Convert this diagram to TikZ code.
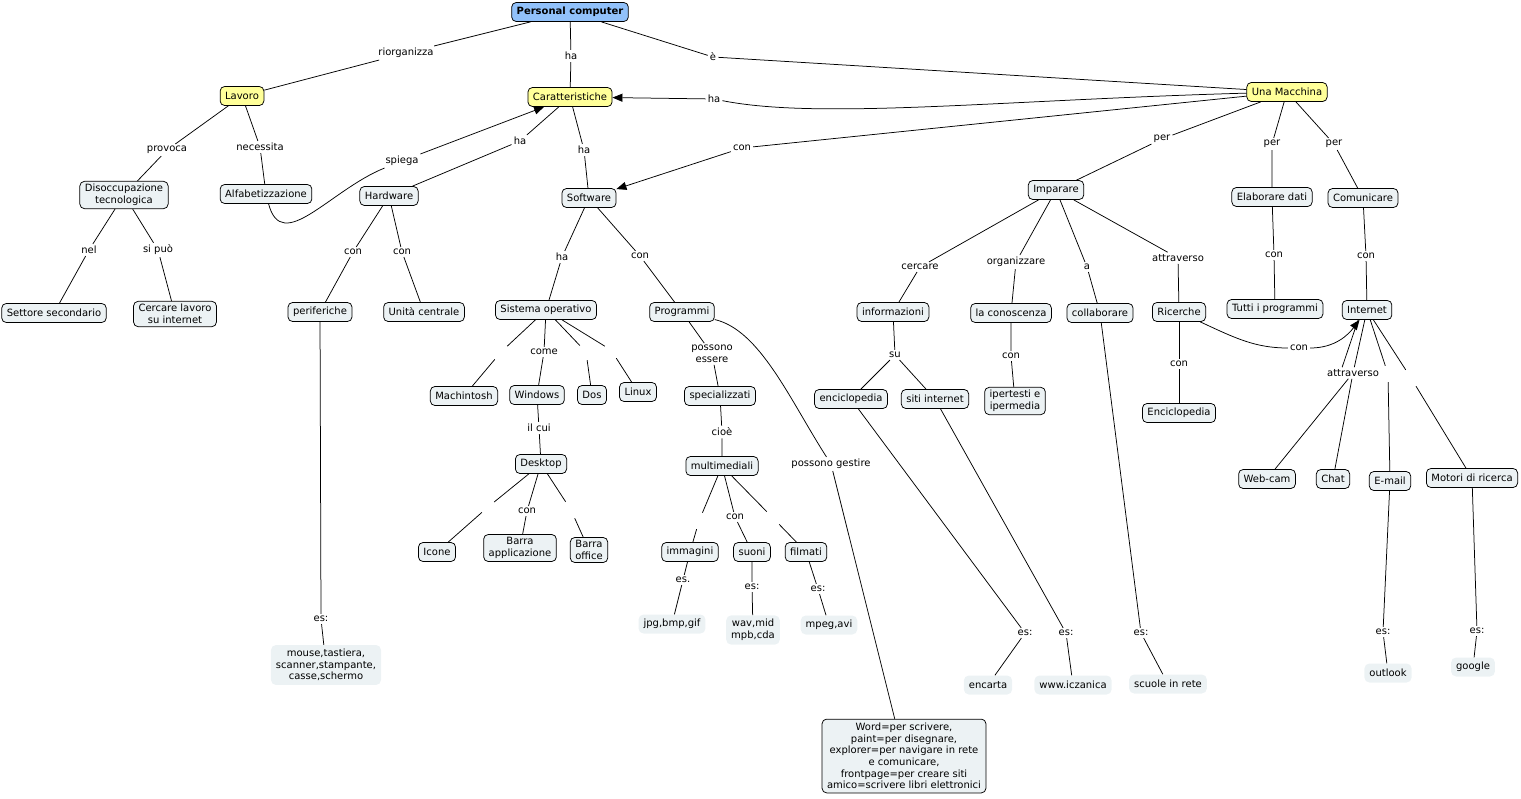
\documentclass[tikz,border=0pt]{standalone}
\usepackage{fontspec}
\setmainfont{DejaVu Sans}
\usepackage{tikz}
\usetikzlibrary{arrows.meta}
\definecolor{cmapice}{RGB}{236,242,244}
\definecolor{cmapyellow}{RGB}{255,255,153}
\definecolor{cmapblue}{RGB}{145,193,250}

\begin{document}
\begin{tikzpicture}[
        x=1pt, y=-1pt,
        concept/.style={draw, rounded corners=4.5pt, line width=0.75pt, fill=cmapice, inner xsep=5pt, inner ysep=3pt, minimum height=19pt, align=center, font=\fontsize{10}{11.6}\selectfont},
        hub/.style={concept, fill=cmapyellow},
        topic/.style={concept, fill=cmapblue, font=\fontsize{10}{11.6}\selectfont\bfseries},
        example/.style={rounded corners=5pt, fill=cmapice, inner xsep=5pt, inner ysep=4pt, minimum height=19pt, align=center, font=\fontsize{10}{11.6}\selectfont},
        link/.style={inner sep=2pt, align=center, font=\fontsize{10}{11.6}\selectfont},
        nolabel/.style={link, minimum width=12pt, minimum height=16pt},
        line/.style={line width=0.75pt},
        linkarrow/.style={line, -{Triangle[length=10pt, width=8pt]}}
    ]
        \useasboundingbox (0,0) rectangle (1521,798);

        \node[topic] (pc) at (570,12) {Personal computer};
        \node[hub] (lavoro) at (242,96) {Lavoro};
        \node[hub] (caratt) at (570,97) {Caratteristiche};
        \node[hub] (macchina) at (1287,92) {Una Macchina};

        \node[concept] (disocc) at (124,195) {Disoccupazione\\tecnologica};
        \node[concept] (alfab) at (266,194) {Alfabetizzazione};
        \node[concept] (hardware) at (389,196) {Hardware};
        \node[concept] (software) at (589,198) {Software};
        \node[concept] (imparare) at (1056,190) {Imparare};
        \node[concept] (elaborare) at (1272,197) {Elaborare dati};
        \node[concept] (comunicare) at (1363,198) {Comunicare};

        \node[concept] (settore) at (54,313) {Settore secondario};
        \node[concept] (cercare) at (175,314) {Cercare lavoro\\su internet};
        \node[concept] (periferiche) at (320,312) {periferiche};
        \node[concept] (unita) at (424,312) {Unità centrale};
        \node[concept] (sisop) at (546,310) {Sistema operativo};
        \node[concept] (programmi) at (682,312) {Programmi};
        \node[concept] (informazioni) at (893,312) {informazioni};
        \node[concept] (conoscenza) at (1011,313) {la conoscenza};
        \node[concept] (collaborare) at (1100,313) {collaborare};
        \node[concept] (ricerche) at (1179,312) {Ricerche};
        \node[concept] (tutti) at (1275,309) {Tutti i programmi};
        \node[concept] (internet) at (1367,310) {Internet};

        \node[concept] (machintosh) at (464,396) {Machintosh};
        \node[concept] (windows) at (537,395) {Windows};
        \node[concept] (dos) at (592,395) {Dos};
        \node[concept] (linux) at (638,392) {Linux};
        \node[concept] (specializzati) at (720,396) {specializzati};
        \node[concept] (enciclopedia) at (851,399) {enciclopedia};
        \node[concept] (siti) at (935,399) {siti internet};
        \node[concept] (ipertesti) at (1015,401) {ipertesti e\\ipermedia};
        \node[concept] (enciclopediaB) at (1179,413) {Enciclopedia};

        \node[concept] (desktop) at (541,464) {Desktop};
        \node[concept] (multimediali) at (722,466) {multimediali};
        \node[concept] (webcam) at (1267,479) {Web-cam};
        \node[concept] (chat) at (1333,479) {Chat};
        \node[concept] (email) at (1390,481) {E-mail};
        \node[concept] (motori) at (1472,478) {Motori di ricerca};

        \node[concept] (icone) at (437,552) {Icone};
        \node[concept] (barraapp) at (520,548) {Barra\\applicazione};
        \node[concept] (barraoff) at (589,550) {Barra\\office};
        \node[concept] (immagini) at (690,552) {immagini};
        \node[concept] (suoni) at (752,552) {suoni};
        \node[concept] (filmati) at (806,552) {filmati};
        \node[concept, inner ysep=4pt] (word) at (904,756) {Word=per scrivere,\\paint=per disegnare,\\explorer=per navigare in rete\\e comunicare,\\frontpage=per creare siti\\amico=scrivere libri elettronici};

        \node[example] (mouse) at (326,665) {mouse,tastiera,\\scanner,stampante,\\casse,schermo};
        \node[example] (jpg) at (672,624) {jpg,bmp,gif};
        \node[example] (wav) at (753,630) {wav,mid\\mpb,cda};
        \node[example] (mpeg) at (829,625) {mpeg,avi};
        \node[example] (encarta) at (988,685) {encarta};
        \node[example] (iczanica) at (1073,685) {www.iczanica};
        \node[example] (scuole) at (1168,684) {scuole in rete};
        \node[example] (outlook) at (1388,673) {outlook};
        \node[example] (google) at (1473,667) {google};

        \node[link] (lRio) at (406,53) {riorganizza};
        \node[link] (lHaA) at (571,56) {ha};
        \node[link] (lE) at (713,57) {è};
        \node[link] (lProvoca) at (167,150) {provoca};
        \node[link] (lNecessita) at (260,147) {necessita};
        \node[link] (lSpiega) at (402,161) {spiega};
        \node[link] (lHaB) at (520,141) {ha};
        \node[link] (lHaC) at (584,150) {ha};
        \node[link] (lHaD) at (714,99) {ha};
        \node[link] (lConA) at (742,148) {con};
        \node[link] (lPerA) at (1162,139) {per};
        \node[link] (lPerB) at (1272,144) {per};
        \node[link] (lPerC) at (1334,144) {per};

        \node[link] (lNel) at (89,250) {nel};
        \node[link] (lSiPuo) at (158,250) {si può};
        \node[link] (lConB) at (353,252) {con};
        \node[link] (lConC) at (402,252) {con};
        \node[link] (lHaE) at (562,257) {ha};
        \node[link] (lConD) at (640,256) {con};
        \node[link] (lCercare) at (920,267) {cercare};
        \node[link] (lOrganizzare) at (1016,262) {organizzare};
        \node[link] (lA) at (1087,267) {a};
        \node[link] (lAttA) at (1178,258) {attraverso};
        \node[link] (lConE) at (1274,255) {con};
        \node[link] (lConF) at (1366,256) {con};

        \node[nolabel] (lNoA) at (501,352) {};
        \node[link] (lCome) at (544,352) {come};
        \node[nolabel] (lNoB) at (586,352) {};
        \node[nolabel] (lNoC) at (611,350) {};
        \node[link] (lEssere) at (712,354) {possono\\essere};
        \node[link] (lGestire) at (831,464) {possono gestire};
        \node[link] (lSu) at (895,355) {su};
        \node[link] (lConG) at (1011,356) {con};
        \node[link] (lConH) at (1179,364) {con};
        \node[link] (lConI) at (1299,348) {con};
        \node[link] (lAttB) at (1353,373) {attraverso};
        \node[nolabel] (lNoD) at (1388,374) {};
        \node[nolabel] (lNoE) at (1411,378) {};

        \node[link] (lIlCui) at (539,428) {il cui};
        \node[link] (lCioe) at (722,432) {cioè};
        \node[nolabel] (lNoF) at (488,507) {};
        \node[link] (lConJ) at (527,511) {con};
        \node[nolabel] (lNoG) at (571,510) {};
        \node[nolabel] (lNoH) at (699,521) {};
        \node[link] (lConK) at (735,517) {con};
        \node[nolabel] (lNoI) at (773,518) {};

        \node[link] (lEsA) at (321,619) {es:};
        \node[link] (lEsB) at (683,580) {es.};
        \node[link] (lEsC) at (752,587) {es:};
        \node[link] (lEsD) at (818,589) {es:};
        \node[link] (lEsE) at (1025,633) {es:};
        \node[link] (lEsF) at (1066,633) {es:};
        \node[link] (lEsG) at (1141,633) {es:};
        \node[link] (lEsH) at (1383,632) {es:};
        \node[link] (lEsI) at (1477,631) {es:};

        \draw[line] (pc) -- (lRio) (lRio) -- (lavoro);
        \draw[line] (pc) -- (lHaA) (lHaA) -- (caratt);
        \draw[line] (pc) -- (lE) (lE) -- (macchina);

        \draw[line] (lavoro) -- (lProvoca) (lProvoca) -- (disocc);
        \draw[line] (lavoro) -- (lNecessita) (lNecessita) -- (alfab);
        \draw[line] (alfab) .. controls (282,255) and (330,190) .. (lSpiega);
        \draw[linkarrow] (lSpiega) -- (caratt);
        \draw[line] (caratt) -- (lHaB) (lHaB) -- (hardware);
        \draw[line] (caratt) -- (lHaC) (lHaC) -- (software);
        \draw[line] (macchina) .. controls (1000,100) and (820,120) .. (lHaD);
        \draw[linkarrow] (lHaD) -- (caratt);
        \draw[line] (macchina) -- (lConA);
        \draw[linkarrow] (lConA) -- (software);
        \draw[line] (macchina) -- (lPerA) (lPerA) -- (imparare);
        \draw[line] (macchina) -- (lPerB) (lPerB) -- (elaborare);
        \draw[line] (macchina) -- (lPerC) (lPerC) -- (comunicare);

        \draw[line] (disocc) -- (lNel) (lNel) -- (settore);
        \draw[line] (disocc) -- (lSiPuo) (lSiPuo) -- (cercare);
        \draw[line] (hardware) -- (lConB) (lConB) -- (periferiche);
        \draw[line] (hardware) -- (lConC) (lConC) -- (unita);
        \draw[line] (software) -- (lHaE) (lHaE) -- (sisop);
        \draw[line] (software) -- (lConD) (lConD) -- (programmi);
        \draw[line] (imparare) -- (lCercare) (lCercare) -- (informazioni);
        \draw[line] (imparare) -- (lOrganizzare) (lOrganizzare) -- (conoscenza);
        \draw[line] (imparare) -- (lA) (lA) -- (collaborare);
        \draw[line] (imparare) -- (lAttA) (lAttA) -- (ricerche);
        \draw[line] (elaborare) -- (lConE) (lConE) -- (tutti);
        \draw[line] (comunicare) -- (lConF) (lConF) -- (internet);

        \draw[line] (sisop) -- (lNoA) (lNoA) -- (machintosh);
        \draw[line] (sisop) -- (lCome) (lCome) -- (windows);
        \draw[line] (sisop) -- (lNoB) (lNoB) -- (dos);
        \draw[line] (sisop) -- (lNoC) (lNoC) -- (linux);
        \draw[line] (programmi) -- (lEssere) (lEssere) -- (specializzati);
        \draw[line] (programmi) .. controls (760,330) and (790,400) .. (lGestire);
        \draw[line] (lGestire) -- (word);
        \draw[line] (informazioni) -- (lSu) (lSu) -- (enciclopedia) (lSu) -- (siti);
        \draw[line] (conoscenza) -- (lConG) (lConG) -- (ipertesti);
        \draw[line] (ricerche) -- (lConH) (lConH) -- (enciclopediaB);
        \draw[line] (ricerche) .. controls (1235,338) and (1255,348) .. (lConI);
        \draw[linkarrow] (lConI) .. controls (1335,348) and (1348,335) .. (internet);
        \draw[line] (internet) -- (lAttB) (lAttB.152) -- (internet.228);
        \draw[line] (lAttB) -- (webcam) (lAttB) -- (chat);
        \draw[line] (internet) -- (lNoD) (lNoD) -- (email);
        \draw[line] (internet) -- (lNoE) (lNoE) -- (motori);

        \draw[line] (windows) -- (lIlCui) (lIlCui) -- (desktop);
        \draw[line] (specializzati) -- (lCioe) (lCioe) -- (multimediali);
        \draw[line] (desktop) -- (lNoF) (lNoF) -- (icone);
        \draw[line] (desktop) -- (lConJ) (lConJ) -- (barraapp);
        \draw[line] (desktop) -- (lNoG) (lNoG) -- (barraoff);
        \draw[line] (multimediali) -- (lNoH) (lNoH) -- (immagini);
        \draw[line] (multimediali) -- (lConK) (lConK) -- (suoni);
        \draw[line] (multimediali) -- (lNoI) (lNoI) -- (filmati);

        \draw[line] (periferiche) -- (lEsA) (lEsA) -- (mouse);
        \draw[line] (immagini) -- (lEsB) (lEsB) -- (jpg);
        \draw[line] (suoni) -- (lEsC) (lEsC) -- (wav);
        \draw[line] (filmati) -- (lEsD) (lEsD) -- (mpeg);
        \draw[line] (enciclopedia) -- (lEsE) (lEsE) -- (encarta);
        \draw[line] (siti) -- (lEsF) (lEsF) -- (iczanica);
        \draw[line] (collaborare) -- (lEsG) (lEsG) -- (scuole);
        \draw[line] (email) -- (lEsH) (lEsH) -- (outlook);
        \draw[line] (motori) -- (lEsI) (lEsI) -- (google);

    \end{tikzpicture}
\end{document}
